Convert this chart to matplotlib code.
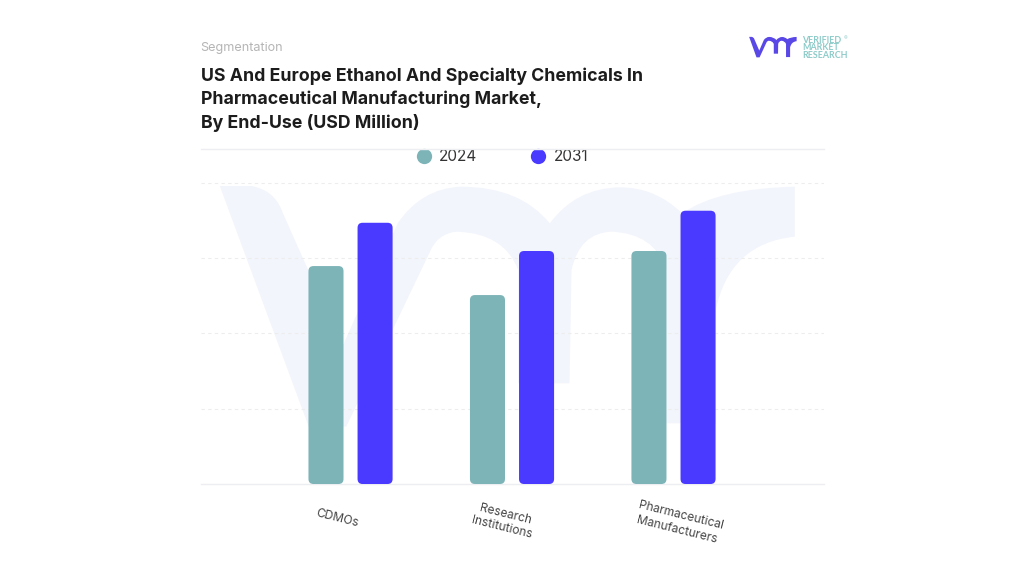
import matplotlib
matplotlib.use("Agg")
import matplotlib.pyplot as plt
from matplotlib.patches import FancyBboxPatch, PathPatch
from matplotlib.path import Path
from matplotlib.lines import Line2D

# data
categories = ["CDMOs", "Research\nInstitutions", "Pharmaceutical\nManufacturers"]
years = ["2024", "2031"]
values_2024 = [57.9, 50.2, 61.9]
values_2031 = [69.4, 61.9, 72.6]
grid_values = [0, 20, 40, 60, 80, 89]

W, H = 1024, 576
TEAL = "#7DB4B8"
BLUE = "#4A3AFF"
WATERMARK = "#F3F5FC"
LOGO_TEXT = "#8CCBC8"

plt.rcParams["font.family"] = ["Inter", "DejaVu Sans"]

fig = plt.figure(figsize=(W / 100, H / 100), dpi=100, facecolor="white")

# overlay in pixel coordinates for logo and watermark
bg = fig.add_axes([0, 0, 1, 1], zorder=0)
bg.set_xlim(0, W)
bg.set_ylim(H, 0)
bg.axis("off")

# "vmr" outline, L = line to, Q = control + end point
logo_start = (50, 48)
logo_steps = [
    ("L", (130, 48)), ("Q", (190, 60), (210, 130)), ("L", (360, 530)), ("L", (500, 160)),
    ("Q", (560, 55), (660, 50)), ("Q", (810, 50), (885, 160)), ("Q", (950, 55), (1060, 52)),
    ("Q", (1150, 50), (1220, 130)), ("Q", (1310, 55), (1505, 50)), ("L", (1505, 200)),
    ("Q", (1340, 220), (1305, 420)), ("L", (1305, 760)), ("L", (1180, 760)), ("L", (1180, 300)),
    ("Q", (1150, 190), (1040, 185)), ("Q", (960, 190), (940, 300)), ("L", (935, 640)),
    ("L", (805, 640)), ("L", (805, 300)), ("Q", (770, 190), (650, 185)), ("Q", (600, 190), (580, 250)),
    ("L", (370, 770)), ("L", (275, 770)),
]


def logo_patch(x0, y0, sx, sy, color):
    pts = [logo_start]
    codes = [Path.MOVETO]
    for step in logo_steps:
        if step[0] == "L":
            pts.append(step[1])
            codes.append(Path.LINETO)
        else:
            pts += [step[1], step[2]]
            codes += [Path.CURVE3, Path.CURVE3]
    pts.append(logo_start)
    codes.append(Path.CLOSEPOLY)
    pts = [(x0 + x * sx, y0 + y * sy) for x, y in pts]
    return PathPatch(Path(pts, codes), fc=color, ec="none")


# watermark behind the bars
bg.add_patch(logo_patch(200, 170, 1 / 2.53, 1 / 3, WATERMARK))

# logo top right
bg.add_patch(logo_patch(747.5, 35.5, 47.5 / 1455, 20.5 / 722, "#5A48E6"))
for y, txt in zip([40.5, 47.5, 55], ["VERIFIED", "MARKET", "RESEARCH"]):
    bg.text(802, y, txt, fontsize=6.4, color=LOGO_TEXT, va="center", ha="left",
            fontweight="bold", family=["Lato", "DejaVu Sans"])
bg.text(844, 38.5, "\u00ae", fontsize=4, color=LOGO_TEXT, va="center", ha="left")

# title
bg.text(200, 47.5, "Segmentation", fontsize=9.1, color="#B5B5B5", va="center", ha="left")
for y, line in zip([76.5, 99.5, 122.5], ["US And Europe Ethanol And Specialty Chemicals In",
                                         "Pharmaceutical Manufacturing Market,",
                                         "By End-Use (USD Million)"]):
    bg.text(201, y, line, fontsize=12.75, color="#1C1C1C", fontweight="bold",
            va="center", ha="left")

# bars
left, right, top, bottom = 201, 824, 149, 484
ax = fig.add_axes([left / W, 1 - bottom / H, (right - left) / W, (bottom - top) / H], zorder=1)
ax.patch.set_alpha(0)
ax.set_xlim(-0.926, 2.932)
ax.set_ylim(0, 89)
for s in ax.spines.values():
    s.set_visible(False)
ax.set_yticks([])
ax.set_xticks(range(len(categories)))
ax.set_xticklabels([])
ax.tick_params(length=0)

for g in grid_values:
    if g in (0, 89):
        ax.axhline(g, color="#ECEEF2", lw=1, clip_on=False, zorder=1)
    else:
        ax.axhline(g, color="#EDEDED", lw=0.8, ls=(0, (3, 3)), zorder=1)

bar_w = 0.217
offset = 0.152
px_y = (bottom - top) / 89
aspect = 161.5 / px_y
for i, (a, b) in enumerate(zip(values_2024, values_2031)):
    for val, dx, col in [(a, -offset, TEAL), (b, offset, BLUE)]:
        ax.add_patch(FancyBboxPatch((i + dx - bar_w / 2, 0), bar_w, val,
                                    boxstyle="round,pad=0,rounding_size=0.031",
                                    mutation_aspect=aspect, fc=col, ec="none", zorder=3))

# category labels, slightly rotated
label_px = [(337, 518), (504, 521), (679, 523)]
for (x, y), name in zip(label_px, categories):
    bg.text(x, y, name, fontsize=8.6, color="#444444", rotation=-14, rotation_mode="anchor",
            ha="center", va="center", linespacing=1.25, zorder=5)

# legend
for x, tx, col, yr in [(424, 439, TEAL, years[0]), (538, 554, BLUE, years[1])]:
    bg.add_line(Line2D([x], [156], marker="o", ms=11, color=col, mec="none", ls="none"))
    bg.text(tx, 156.5, yr, fontsize=11, color="#333333", va="center", ha="left")

fig.savefig("out.png", dpi=100)
